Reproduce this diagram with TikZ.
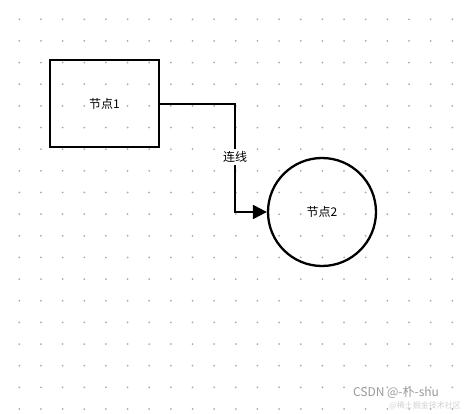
\documentclass[tikz,border=0pt]{standalone}
\usepackage{fontspec}
\setmainfont{Noto Sans CJK SC}
\usetikzlibrary{arrows.meta}
\definecolor{dotgrey}{HTML}{ABABAB}
\definecolor{wmgrey}{HTML}{9A9A9A}
\tikzset{
  gridpt/.style={fill=dotgrey, draw=none},
  boxnode/.style={draw=black, line width=2.3pt, minimum width=109pt, minimum height=87pt, inner sep=0pt, font=\fontsize{12}{14}\selectfont},
  circnode/.style={draw=black, line width=2.3pt, circle, minimum size=108pt, inner sep=0pt, font=\fontsize{12}{14}\selectfont},
  conn/.style={draw=black, line width=2.3pt, -{Triangle[length=14pt,width=14pt]}},
  lbl/.style={fill=white, inner sep=2pt, font=\fontsize{12}{14}\selectfont}
}
\begin{document}
\begin{tikzpicture}[x=1pt,y=-1pt]
\useasboundingbox (0,0) rectangle (474,414);
\fill[white] (0,0) rectangle (474,414);
\foreach \i in {0,...,20}{
  \foreach \j in {0,...,18}{
    \fill[gridpt] ({19.3+21.65*\i},{19.3+21.65*\j}) circle (1);
  }
}
\node[boxnode] (n1) at (104.5,103.5) {节点1};
\node[circnode] (n2) at (322,212) {节点2};
\coordinate (bend1) at (235,104);
\coordinate (bend2) at (235,212);
\draw[conn] (n1.east |- bend1) -- (bend1) -- (bend2) -- (n2.west);
\node[lbl] (l1) at (235,157) {连线};
\node[text=wmgrey, font=\fontsize{12}{14}\selectfont, inner sep=0pt] (wm) at (396,392) {CSDN @-朴-shu};
\node[text=wmgrey!45, font=\fontsize{8}{9}\selectfont, inner sep=0pt] (wm2) at (425,406) {@稀土掘金技术社区};
\end{tikzpicture}
\end{document}
